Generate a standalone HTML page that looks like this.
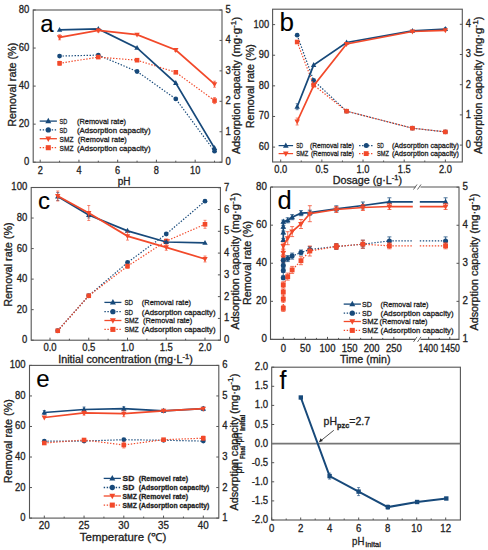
<!DOCTYPE html>
<html><head><meta charset="utf-8"><style>
html,body{margin:0;padding:0;background:#fff;}
svg{display:block;}
text{font-family:"Liberation Sans", sans-serif;fill:#222;stroke:#222;stroke-width:0.3px;}
.L{fill:#000;stroke:#000;stroke-width:0.1px;}
</style></head><body>
<svg width="488" height="550" viewBox="0 0 488 550">
<rect width="488" height="550" fill="#fff"/>
<rect x="33.2" y="10" width="188.8" height="152.2" fill="none" stroke="#555" stroke-width="1.1"/>
<line x1="33.2" y1="162.2" x2="35.7" y2="162.2" stroke="#555" stroke-width="1"/>
<text x="29.2" y="165.18" font-size="10.64" text-anchor="end" textLength="5.28" lengthAdjust="spacingAndGlyphs">0</text>
<line x1="33.2" y1="124.15" x2="35.7" y2="124.15" stroke="#555" stroke-width="1"/>
<text x="29.2" y="127.13" font-size="10.64" text-anchor="end" textLength="10.57" lengthAdjust="spacingAndGlyphs">20</text>
<line x1="33.2" y1="86.1" x2="35.7" y2="86.1" stroke="#555" stroke-width="1"/>
<text x="29.2" y="89.08" font-size="10.64" text-anchor="end" textLength="10.57" lengthAdjust="spacingAndGlyphs">40</text>
<line x1="33.2" y1="48.05" x2="35.7" y2="48.05" stroke="#555" stroke-width="1"/>
<text x="29.2" y="51.03" font-size="10.64" text-anchor="end" textLength="10.57" lengthAdjust="spacingAndGlyphs">60</text>
<line x1="33.2" y1="10" x2="35.7" y2="10" stroke="#555" stroke-width="1"/>
<text x="29.2" y="12.98" font-size="10.64" text-anchor="end" textLength="10.57" lengthAdjust="spacingAndGlyphs">80</text>
<line x1="222" y1="162.2" x2="219.5" y2="162.2" stroke="#555" stroke-width="1"/>
<text x="225.5" y="165.18" font-size="10.64" text-anchor="start" textLength="5.28" lengthAdjust="spacingAndGlyphs">0</text>
<line x1="222" y1="131.76" x2="219.5" y2="131.76" stroke="#555" stroke-width="1"/>
<text x="225.5" y="134.74" font-size="10.64" text-anchor="start" textLength="5.28" lengthAdjust="spacingAndGlyphs">1</text>
<line x1="222" y1="101.32" x2="219.5" y2="101.32" stroke="#555" stroke-width="1"/>
<text x="225.5" y="104.3" font-size="10.64" text-anchor="start" textLength="5.28" lengthAdjust="spacingAndGlyphs">2</text>
<line x1="222" y1="70.88" x2="219.5" y2="70.88" stroke="#555" stroke-width="1"/>
<text x="225.5" y="73.86" font-size="10.64" text-anchor="start" textLength="5.28" lengthAdjust="spacingAndGlyphs">3</text>
<line x1="222" y1="40.44" x2="219.5" y2="40.44" stroke="#555" stroke-width="1"/>
<text x="225.5" y="43.42" font-size="10.64" text-anchor="start" textLength="5.28" lengthAdjust="spacingAndGlyphs">4</text>
<line x1="222" y1="10" x2="219.5" y2="10" stroke="#555" stroke-width="1"/>
<text x="225.5" y="12.98" font-size="10.64" text-anchor="start" textLength="5.28" lengthAdjust="spacingAndGlyphs">5</text>
<line x1="40.2" y1="162.2" x2="40.2" y2="159.7" stroke="#555" stroke-width="1"/>
<text x="40.2" y="174.2" font-size="10.3" text-anchor="middle" textLength="5.12" lengthAdjust="spacingAndGlyphs">2</text>
<line x1="78.94" y1="162.2" x2="78.94" y2="159.7" stroke="#555" stroke-width="1"/>
<text x="78.94" y="174.2" font-size="10.3" text-anchor="middle" textLength="5.12" lengthAdjust="spacingAndGlyphs">4</text>
<line x1="117.68" y1="162.2" x2="117.68" y2="159.7" stroke="#555" stroke-width="1"/>
<text x="117.68" y="174.2" font-size="10.3" text-anchor="middle" textLength="5.12" lengthAdjust="spacingAndGlyphs">6</text>
<line x1="156.42" y1="162.2" x2="156.42" y2="159.7" stroke="#555" stroke-width="1"/>
<text x="156.42" y="174.2" font-size="10.3" text-anchor="middle" textLength="5.12" lengthAdjust="spacingAndGlyphs">8</text>
<line x1="195.16" y1="162.2" x2="195.16" y2="159.7" stroke="#555" stroke-width="1"/>
<text x="195.16" y="174.2" font-size="10.3" text-anchor="middle" textLength="10.23" lengthAdjust="spacingAndGlyphs">10</text>
<line x1="59.57" y1="162.2" x2="59.57" y2="160.7" stroke="#555" stroke-width="1"/>
<line x1="98.31" y1="162.2" x2="98.31" y2="160.7" stroke="#555" stroke-width="1"/>
<line x1="137.05" y1="162.2" x2="137.05" y2="160.7" stroke="#555" stroke-width="1"/>
<line x1="175.79" y1="162.2" x2="175.79" y2="160.7" stroke="#555" stroke-width="1"/>
<line x1="214.53" y1="162.2" x2="214.53" y2="160.7" stroke="#555" stroke-width="1"/>
<text x="117.8" y="185.2" font-size="10" text-anchor="start">pH</text>
<text transform="translate(16.2,0) rotate(-90)" x="-126.8" y="0" font-size="10.1" textLength="84.1" lengthAdjust="spacingAndGlyphs">Removal rate (%)</text>
<text transform="translate(240.2,0) rotate(-90)" x="-154.1" y="0" font-size="10.8" textLength="94.05" lengthAdjust="spacingAndGlyphs">Adsorption capacity</text>
<text transform="translate(240.2,0) rotate(-90)" x="-57.3" y="0" font-size="10.8" textLength="40.5" lengthAdjust="spacingAndGlyphs">(mg·g<tspan font-size="75%" dy="-4.2">-1</tspan><tspan dy="4.2">)</tspan></text>
<text x="40.3" y="31.8" font-size="24" class="L">a</text>
<path d="M59.57,56.1 L98.31,55.1 L137.05,71.5 L175.79,98.9 L214.53,151.2" fill="none" stroke="#17497a" stroke-width="1.2" stroke-dasharray="1.4 1.6"/>
<circle cx="59.57" cy="56.1" r="2.4" fill="#17497a"/>
<circle cx="98.31" cy="55.1" r="2.4" fill="#17497a"/>
<circle cx="137.05" cy="71.5" r="2.4" fill="#17497a"/>
<circle cx="175.79" cy="98.9" r="2.4" fill="#17497a"/>
<circle cx="214.53" cy="151.2" r="2.4" fill="#17497a"/>
<path d="M59.57,63.3 L98.31,57.1 L137.05,60.2 L175.79,72.3 L214.53,100.6" fill="none" stroke="#f2492a" stroke-width="1.2" stroke-dasharray="1.4 1.6"/>
<path d="M59.57,61.3V65.3M58.07,61.3H61.07M58.07,65.3H61.07" stroke="#f2492a" stroke-width="0.8" fill="none" opacity="0.8"/>
<path d="M214.53,97.6V103.6M213.03,97.6H216.03M213.03,103.6H216.03" stroke="#f2492a" stroke-width="0.8" fill="none" opacity="0.8"/>
<rect x="57.27" y="61" width="4.6" height="4.6" fill="#f2492a"/>
<rect x="96.01" y="54.8" width="4.6" height="4.6" fill="#f2492a"/>
<rect x="134.75" y="57.9" width="4.6" height="4.6" fill="#f2492a"/>
<rect x="173.49" y="70" width="4.6" height="4.6" fill="#f2492a"/>
<rect x="212.23" y="98.3" width="4.6" height="4.6" fill="#f2492a"/>
<path d="M59.57,29.9 L98.31,28.9 L137.05,47.9 L175.79,83 L214.53,148.1" fill="none" stroke="#17497a" stroke-width="1.75"/>
<path d="M59.57,26.9 L62.27,31.85 L56.87,31.85Z" fill="#17497a"/>
<path d="M98.31,25.9 L101.01,30.85 L95.61,30.85Z" fill="#17497a"/>
<path d="M137.05,44.9 L139.75,49.85 L134.35,49.85Z" fill="#17497a"/>
<path d="M175.79,80 L178.49,84.95 L173.09,84.95Z" fill="#17497a"/>
<path d="M214.53,145.1 L217.23,150.05 L211.83,150.05Z" fill="#17497a"/>
<path d="M59.57,37.3 L98.31,30.5 L137.05,34.6 L175.79,50 L214.53,84.2" fill="none" stroke="#f2492a" stroke-width="1.75"/>
<path d="M59.57,34.8V39.8M58.07,34.8H61.07M58.07,39.8H61.07" stroke="#f2492a" stroke-width="0.8" fill="none" opacity="0.8"/>
<path d="M98.31,29V32M96.81,29H99.81M96.81,32H99.81" stroke="#f2492a" stroke-width="0.8" fill="none" opacity="0.8"/>
<path d="M175.79,48.5V51.5M174.29,48.5H177.29M174.29,51.5H177.29" stroke="#f2492a" stroke-width="0.8" fill="none" opacity="0.8"/>
<path d="M214.53,81.2V87.2M213.03,81.2H216.03M213.03,87.2H216.03" stroke="#f2492a" stroke-width="0.8" fill="none" opacity="0.8"/>
<path d="M59.57,40.3 L62.27,35.35 L56.87,35.35Z" fill="#f2492a"/>
<path d="M98.31,33.5 L101.01,28.55 L95.61,28.55Z" fill="#f2492a"/>
<path d="M137.05,37.6 L139.75,32.65 L134.35,32.65Z" fill="#f2492a"/>
<path d="M175.79,53 L178.49,48.05 L173.09,48.05Z" fill="#f2492a"/>
<path d="M214.53,87.2 L217.23,82.25 L211.83,82.25Z" fill="#f2492a"/>
<line x1="39.7" y1="121.1" x2="56.9" y2="121.1" stroke="#17497a" stroke-width="1.3"/>
<path d="M48.3,117.8 L51.27,123.24 L45.33,123.24Z" fill="#17497a"/>
<text x="59.6" y="123.98" font-size="8" textLength="7.7" lengthAdjust="spacingAndGlyphs">SD</text>
<text x="77" y="123.98" font-size="8" textLength="49" lengthAdjust="spacingAndGlyphs">(Removal rate)</text>
<line x1="39.7" y1="129.9" x2="56.9" y2="129.9" stroke="#17497a" stroke-width="1.3" stroke-dasharray="1.4 1.6"/>
<circle cx="48.3" cy="129.9" r="2.64" fill="#17497a"/>
<text x="59.6" y="132.78" font-size="8" textLength="7.7" lengthAdjust="spacingAndGlyphs">SD</text>
<text x="77" y="132.78" font-size="8" textLength="73.5" lengthAdjust="spacingAndGlyphs">(Adsorption capacity)</text>
<line x1="39.7" y1="138.7" x2="56.9" y2="138.7" stroke="#f2492a" stroke-width="1.3"/>
<path d="M48.3,142 L51.27,136.55 L45.33,136.55Z" fill="#f2492a"/>
<text x="59.6" y="141.58" font-size="8" textLength="13.8" lengthAdjust="spacingAndGlyphs">SMZ</text>
<text x="77.8" y="141.58" font-size="8" textLength="49" lengthAdjust="spacingAndGlyphs">(Removal rate)</text>
<line x1="39.7" y1="147.7" x2="56.9" y2="147.7" stroke="#f2492a" stroke-width="1.3" stroke-dasharray="1.4 1.6"/>
<rect x="45.77" y="145.17" width="5.06" height="5.06" fill="#f2492a"/>
<text x="59.6" y="150.58" font-size="8" textLength="13.8" lengthAdjust="spacingAndGlyphs">SMZ</text>
<text x="77" y="150.58" font-size="8" textLength="73.5" lengthAdjust="spacingAndGlyphs">(Adsorption capacity)</text>
<rect x="272.6" y="9.2" width="189.7" height="152.8" fill="none" stroke="#555" stroke-width="1.1"/>
<line x1="272.6" y1="147.1" x2="275.1" y2="147.1" stroke="#555" stroke-width="1"/>
<text x="269.1" y="150.02" font-size="10.42" text-anchor="end" textLength="10.34" lengthAdjust="spacingAndGlyphs">60</text>
<line x1="272.6" y1="116.47" x2="275.1" y2="116.47" stroke="#555" stroke-width="1"/>
<text x="269.1" y="119.39" font-size="10.42" text-anchor="end" textLength="10.34" lengthAdjust="spacingAndGlyphs">70</text>
<line x1="272.6" y1="85.85" x2="275.1" y2="85.85" stroke="#555" stroke-width="1"/>
<text x="269.1" y="88.77" font-size="10.42" text-anchor="end" textLength="10.34" lengthAdjust="spacingAndGlyphs">80</text>
<line x1="272.6" y1="55.22" x2="275.1" y2="55.22" stroke="#555" stroke-width="1"/>
<text x="269.1" y="58.14" font-size="10.42" text-anchor="end" textLength="10.34" lengthAdjust="spacingAndGlyphs">90</text>
<line x1="272.6" y1="24.6" x2="275.1" y2="24.6" stroke="#555" stroke-width="1"/>
<text x="269.1" y="27.52" font-size="10.42" text-anchor="end" textLength="15.52" lengthAdjust="spacingAndGlyphs">100</text>
<line x1="462.3" y1="145.1" x2="459.8" y2="145.1" stroke="#555" stroke-width="1"/>
<text x="465.8" y="148.02" font-size="10.42" text-anchor="start" textLength="5.17" lengthAdjust="spacingAndGlyphs">0</text>
<line x1="462.3" y1="114.9" x2="459.8" y2="114.9" stroke="#555" stroke-width="1"/>
<text x="465.8" y="117.82" font-size="10.42" text-anchor="start" textLength="5.17" lengthAdjust="spacingAndGlyphs">1</text>
<line x1="462.3" y1="84.7" x2="459.8" y2="84.7" stroke="#555" stroke-width="1"/>
<text x="465.8" y="87.62" font-size="10.42" text-anchor="start" textLength="5.17" lengthAdjust="spacingAndGlyphs">2</text>
<line x1="462.3" y1="54.5" x2="459.8" y2="54.5" stroke="#555" stroke-width="1"/>
<text x="465.8" y="57.42" font-size="10.42" text-anchor="start" textLength="5.17" lengthAdjust="spacingAndGlyphs">3</text>
<line x1="462.3" y1="24.3" x2="459.8" y2="24.3" stroke="#555" stroke-width="1"/>
<text x="465.8" y="27.22" font-size="10.42" text-anchor="start" textLength="5.17" lengthAdjust="spacingAndGlyphs">4</text>
<line x1="280.7" y1="162" x2="280.7" y2="159.5" stroke="#555" stroke-width="1"/>
<text x="280.7" y="173.3" font-size="10.42" text-anchor="middle" textLength="12.93" lengthAdjust="spacingAndGlyphs">0.0</text>
<line x1="321.87" y1="162" x2="321.87" y2="159.5" stroke="#555" stroke-width="1"/>
<text x="321.87" y="173.3" font-size="10.42" text-anchor="middle" textLength="12.93" lengthAdjust="spacingAndGlyphs">0.5</text>
<line x1="363.03" y1="162" x2="363.03" y2="159.5" stroke="#555" stroke-width="1"/>
<text x="363.03" y="173.3" font-size="10.42" text-anchor="middle" textLength="12.93" lengthAdjust="spacingAndGlyphs">1.0</text>
<line x1="404.19" y1="162" x2="404.19" y2="159.5" stroke="#555" stroke-width="1"/>
<text x="404.19" y="173.3" font-size="10.42" text-anchor="middle" textLength="12.93" lengthAdjust="spacingAndGlyphs">1.5</text>
<line x1="445.36" y1="162" x2="445.36" y2="159.5" stroke="#555" stroke-width="1"/>
<text x="445.36" y="173.3" font-size="10.42" text-anchor="middle" textLength="12.93" lengthAdjust="spacingAndGlyphs">2.0</text>
<line x1="301.28" y1="162" x2="301.28" y2="160.5" stroke="#555" stroke-width="1"/>
<line x1="342.45" y1="162" x2="342.45" y2="160.5" stroke="#555" stroke-width="1"/>
<line x1="383.61" y1="162" x2="383.61" y2="160.5" stroke="#555" stroke-width="1"/>
<line x1="424.78" y1="162" x2="424.78" y2="160.5" stroke="#555" stroke-width="1"/>
<text x="332.7" y="183.6" font-size="10" text-anchor="start" textLength="69.3" lengthAdjust="spacingAndGlyphs">Dosage (g·L<tspan font-size="70%" dy="-4">-1</tspan><tspan dy="4">)</tspan></text>
<text transform="translate(254,0) rotate(-90)" x="-128.2" y="0" font-size="10.1" textLength="84.1" lengthAdjust="spacingAndGlyphs">Removal rate (%)</text>
<text transform="translate(482,0) rotate(-90)" x="-154.1" y="0" font-size="10.8" textLength="94.32" lengthAdjust="spacingAndGlyphs">Adsorption capacity</text>
<text transform="translate(482,0) rotate(-90)" x="-57.02" y="0" font-size="10.8" textLength="40.62" lengthAdjust="spacingAndGlyphs">(mg·g<tspan font-size="75%" dy="-4.2">-1</tspan><tspan dy="4.2">)</tspan></text>
<text x="279.6" y="31" font-size="26" class="L">b</text>
<path d="M297.17,35.2 L313.63,80.5 L346.56,111.2 L412.43,128.2 L445.36,131.9" fill="none" stroke="#17497a" stroke-width="1.2" stroke-dasharray="1.4 1.6"/>
<circle cx="297.17" cy="35.2" r="2.4" fill="#17497a"/>
<circle cx="313.63" cy="80.5" r="2.4" fill="#17497a"/>
<circle cx="346.56" cy="111.2" r="2.4" fill="#17497a"/>
<circle cx="412.43" cy="128.2" r="2.4" fill="#17497a"/>
<circle cx="445.36" cy="131.9" r="2.4" fill="#17497a"/>
<path d="M297.17,42 L313.63,85 L346.56,111.2 L412.43,128.2 L445.36,131.9" fill="none" stroke="#f2492a" stroke-width="1.2" stroke-dasharray="1.4 1.6"/>
<rect x="294.87" y="39.7" width="4.6" height="4.6" fill="#f2492a"/>
<rect x="311.33" y="82.7" width="4.6" height="4.6" fill="#f2492a"/>
<rect x="344.26" y="108.9" width="4.6" height="4.6" fill="#f2492a"/>
<rect x="410.13" y="125.9" width="4.6" height="4.6" fill="#f2492a"/>
<rect x="443.06" y="129.6" width="4.6" height="4.6" fill="#f2492a"/>
<path d="M297.17,106.7 L313.63,65.1 L346.56,42.5 L412.43,30.9 L445.36,29.1" fill="none" stroke="#17497a" stroke-width="1.75"/>
<path d="M297.17,103.7V109.7M295.67,103.7H298.67M295.67,109.7H298.67" stroke="#17497a" stroke-width="0.8" fill="none" opacity="0.8"/>
<path d="M445.36,27.6V30.6M443.86,27.6H446.86M443.86,30.6H446.86" stroke="#17497a" stroke-width="0.8" fill="none" opacity="0.8"/>
<path d="M297.17,103.7 L299.87,108.65 L294.47,108.65Z" fill="#17497a"/>
<path d="M313.63,62.1 L316.33,67.05 L310.93,67.05Z" fill="#17497a"/>
<path d="M346.56,39.5 L349.26,44.45 L343.86,44.45Z" fill="#17497a"/>
<path d="M412.43,27.9 L415.13,32.85 L409.73,32.85Z" fill="#17497a"/>
<path d="M445.36,26.1 L448.06,31.05 L442.66,31.05Z" fill="#17497a"/>
<path d="M297.17,121.5 L313.63,85.6 L346.56,44 L412.43,31.5 L445.36,30.3" fill="none" stroke="#f2492a" stroke-width="1.75"/>
<path d="M297.17,118V125M295.67,118H298.67M295.67,125H298.67" stroke="#f2492a" stroke-width="0.8" fill="none" opacity="0.8"/>
<path d="M297.17,124.5 L299.87,119.55 L294.47,119.55Z" fill="#f2492a"/>
<path d="M313.63,88.6 L316.33,83.65 L310.93,83.65Z" fill="#f2492a"/>
<path d="M346.56,47 L349.26,42.05 L343.86,42.05Z" fill="#f2492a"/>
<path d="M412.43,34.5 L415.13,29.55 L409.73,29.55Z" fill="#f2492a"/>
<path d="M445.36,33.3 L448.06,28.35 L442.66,28.35Z" fill="#f2492a"/>
<line x1="278.6" y1="145.6" x2="293.1" y2="145.6" stroke="#17497a" stroke-width="1.2"/>
<path d="M285.8,142.45 L288.63,147.65 L282.97,147.65Z" fill="#17497a"/>
<text x="296.2" y="148.34" font-size="7.6" textLength="6.8" lengthAdjust="spacingAndGlyphs">SD</text>
<text x="310" y="148.34" font-size="7.6" textLength="44" lengthAdjust="spacingAndGlyphs">(Removal rate)</text>
<line x1="278.6" y1="153.6" x2="293.1" y2="153.6" stroke="#f2492a" stroke-width="1.2"/>
<path d="M285.8,156.75 L288.63,151.55 L282.97,151.55Z" fill="#f2492a"/>
<text x="296.2" y="156.34" font-size="7.6" textLength="11.9" lengthAdjust="spacingAndGlyphs">SMZ</text>
<text x="310.9" y="156.34" font-size="7.6" textLength="43.1" lengthAdjust="spacingAndGlyphs">(Removal rate)</text>
<line x1="359.1" y1="145.6" x2="373.6" y2="145.6" stroke="#17497a" stroke-width="1.2" stroke-dasharray="1.4 1.6"/>
<circle cx="366.3" cy="145.6" r="2.52" fill="#17497a"/>
<text x="377" y="148.34" font-size="7.6" textLength="6.8" lengthAdjust="spacingAndGlyphs">SD</text>
<text x="392" y="148.34" font-size="7.6" textLength="66.9" lengthAdjust="spacingAndGlyphs">(Adsorption capacity)</text>
<line x1="359" y1="153.6" x2="373.5" y2="153.6" stroke="#f2492a" stroke-width="1.2" stroke-dasharray="1.4 1.6"/>
<rect x="363.78" y="151.19" width="4.83" height="4.83" fill="#f2492a"/>
<text x="377" y="156.34" font-size="7.6" textLength="11.9" lengthAdjust="spacingAndGlyphs">SMZ</text>
<text x="392" y="156.34" font-size="7.6" textLength="66.9" lengthAdjust="spacingAndGlyphs">(Adsorption capacity)</text>
<rect x="31.2" y="187.5" width="189.2" height="152.7" fill="none" stroke="#555" stroke-width="1.1"/>
<line x1="31.2" y1="340.2" x2="33.7" y2="340.2" stroke="#555" stroke-width="1"/>
<text x="27.2" y="343.18" font-size="10.64" text-anchor="end" textLength="5.28" lengthAdjust="spacingAndGlyphs">0</text>
<line x1="31.2" y1="309.66" x2="33.7" y2="309.66" stroke="#555" stroke-width="1"/>
<text x="27.2" y="312.64" font-size="10.64" text-anchor="end" textLength="10.57" lengthAdjust="spacingAndGlyphs">20</text>
<line x1="31.2" y1="279.12" x2="33.7" y2="279.12" stroke="#555" stroke-width="1"/>
<text x="27.2" y="282.1" font-size="10.64" text-anchor="end" textLength="10.57" lengthAdjust="spacingAndGlyphs">40</text>
<line x1="31.2" y1="248.58" x2="33.7" y2="248.58" stroke="#555" stroke-width="1"/>
<text x="27.2" y="251.56" font-size="10.64" text-anchor="end" textLength="10.57" lengthAdjust="spacingAndGlyphs">60</text>
<line x1="31.2" y1="218.04" x2="33.7" y2="218.04" stroke="#555" stroke-width="1"/>
<text x="27.2" y="221.02" font-size="10.64" text-anchor="end" textLength="10.57" lengthAdjust="spacingAndGlyphs">80</text>
<line x1="31.2" y1="187.5" x2="33.7" y2="187.5" stroke="#555" stroke-width="1"/>
<text x="27.2" y="190.48" font-size="10.64" text-anchor="end" textLength="15.85" lengthAdjust="spacingAndGlyphs">100</text>
<line x1="220.4" y1="340.2" x2="217.9" y2="340.2" stroke="#555" stroke-width="1"/>
<text x="223.9" y="343.18" font-size="10.64" text-anchor="start" textLength="5.28" lengthAdjust="spacingAndGlyphs">0</text>
<line x1="220.4" y1="318.42" x2="217.9" y2="318.42" stroke="#555" stroke-width="1"/>
<text x="223.9" y="321.4" font-size="10.64" text-anchor="start" textLength="5.28" lengthAdjust="spacingAndGlyphs">1</text>
<line x1="220.4" y1="296.64" x2="217.9" y2="296.64" stroke="#555" stroke-width="1"/>
<text x="223.9" y="299.62" font-size="10.64" text-anchor="start" textLength="5.28" lengthAdjust="spacingAndGlyphs">2</text>
<line x1="220.4" y1="274.86" x2="217.9" y2="274.86" stroke="#555" stroke-width="1"/>
<text x="223.9" y="277.84" font-size="10.64" text-anchor="start" textLength="5.28" lengthAdjust="spacingAndGlyphs">3</text>
<line x1="220.4" y1="253.08" x2="217.9" y2="253.08" stroke="#555" stroke-width="1"/>
<text x="223.9" y="256.06" font-size="10.64" text-anchor="start" textLength="5.28" lengthAdjust="spacingAndGlyphs">4</text>
<line x1="220.4" y1="231.3" x2="217.9" y2="231.3" stroke="#555" stroke-width="1"/>
<text x="223.9" y="234.28" font-size="10.64" text-anchor="start" textLength="5.28" lengthAdjust="spacingAndGlyphs">5</text>
<line x1="220.4" y1="209.52" x2="217.9" y2="209.52" stroke="#555" stroke-width="1"/>
<text x="223.9" y="212.5" font-size="10.64" text-anchor="start" textLength="5.28" lengthAdjust="spacingAndGlyphs">6</text>
<line x1="220.4" y1="187.74" x2="217.9" y2="187.74" stroke="#555" stroke-width="1"/>
<text x="223.9" y="190.72" font-size="10.64" text-anchor="start" textLength="5.28" lengthAdjust="spacingAndGlyphs">7</text>
<line x1="50" y1="340.2" x2="50" y2="337.7" stroke="#555" stroke-width="1"/>
<text x="50" y="351.3" font-size="10.64" text-anchor="middle" textLength="13.21" lengthAdjust="spacingAndGlyphs">0.0</text>
<line x1="88.75" y1="340.2" x2="88.75" y2="337.7" stroke="#555" stroke-width="1"/>
<text x="88.75" y="351.3" font-size="10.64" text-anchor="middle" textLength="13.21" lengthAdjust="spacingAndGlyphs">0.5</text>
<line x1="127.5" y1="340.2" x2="127.5" y2="337.7" stroke="#555" stroke-width="1"/>
<text x="127.5" y="351.3" font-size="10.64" text-anchor="middle" textLength="13.21" lengthAdjust="spacingAndGlyphs">1.0</text>
<line x1="166.25" y1="340.2" x2="166.25" y2="337.7" stroke="#555" stroke-width="1"/>
<text x="166.25" y="351.3" font-size="10.64" text-anchor="middle" textLength="13.21" lengthAdjust="spacingAndGlyphs">1.5</text>
<line x1="205" y1="340.2" x2="205" y2="337.7" stroke="#555" stroke-width="1"/>
<text x="205" y="351.3" font-size="10.64" text-anchor="middle" textLength="13.21" lengthAdjust="spacingAndGlyphs">2.0</text>
<line x1="69.38" y1="340.2" x2="69.38" y2="338.7" stroke="#555" stroke-width="1"/>
<line x1="108.12" y1="340.2" x2="108.12" y2="338.7" stroke="#555" stroke-width="1"/>
<line x1="146.88" y1="340.2" x2="146.88" y2="338.7" stroke="#555" stroke-width="1"/>
<line x1="185.62" y1="340.2" x2="185.62" y2="338.7" stroke="#555" stroke-width="1"/>
<text x="58.2" y="362.5" font-size="10" text-anchor="start" textLength="134.7" lengthAdjust="spacingAndGlyphs">Initial concentration (mg·L<tspan font-size="70%" dy="-4">-1</tspan><tspan dy="4">)</tspan></text>
<text transform="translate(11.8,0) rotate(-90)" x="-306.8" y="0" font-size="10.1" textLength="84.5" lengthAdjust="spacingAndGlyphs">Removal rate (%)</text>
<text transform="translate(239.4,0) rotate(-90)" x="-329.5" y="0" font-size="10.8" textLength="93.57" lengthAdjust="spacingAndGlyphs">Adsorption capacity</text>
<text transform="translate(239.4,0) rotate(-90)" x="-233.2" y="0" font-size="10.8" textLength="40.3" lengthAdjust="spacingAndGlyphs">(mg·g<tspan font-size="75%" dy="-4.2">-1</tspan><tspan dy="4.2">)</tspan></text>
<text x="38" y="209" font-size="24" class="L">c</text>
<path d="M57.75,330.75 L88.75,295.75 L127.5,262.5 L166.25,234 L205,201.2" fill="none" stroke="#17497a" stroke-width="1.2" stroke-dasharray="1.4 1.6"/>
<circle cx="57.75" cy="330.75" r="2.4" fill="#17497a"/>
<circle cx="88.75" cy="295.75" r="2.4" fill="#17497a"/>
<circle cx="127.5" cy="262.5" r="2.4" fill="#17497a"/>
<circle cx="166.25" cy="234" r="2.4" fill="#17497a"/>
<circle cx="205" cy="201.2" r="2.4" fill="#17497a"/>
<path d="M57.75,330.75 L88.75,295.75 L127.5,266.2 L166.25,241.1 L205,224.3" fill="none" stroke="#f2492a" stroke-width="1.2" stroke-dasharray="1.4 1.6"/>
<path d="M127.5,264.2V268.2M126,264.2H129M126,268.2H129" stroke="#f2492a" stroke-width="0.8" fill="none" opacity="0.8"/>
<path d="M166.25,239.1V243.1M164.75,239.1H167.75M164.75,243.1H167.75" stroke="#f2492a" stroke-width="0.8" fill="none" opacity="0.8"/>
<path d="M205,220.3V228.3M203.5,220.3H206.5M203.5,228.3H206.5" stroke="#f2492a" stroke-width="0.8" fill="none" opacity="0.8"/>
<rect x="55.45" y="328.45" width="4.6" height="4.6" fill="#f2492a"/>
<rect x="86.45" y="293.45" width="4.6" height="4.6" fill="#f2492a"/>
<rect x="125.2" y="263.9" width="4.6" height="4.6" fill="#f2492a"/>
<rect x="163.95" y="238.8" width="4.6" height="4.6" fill="#f2492a"/>
<rect x="202.7" y="222" width="4.6" height="4.6" fill="#f2492a"/>
<path d="M57.75,196.5 L88.75,215 L127.5,230.8 L166.25,242 L205,242.9" fill="none" stroke="#17497a" stroke-width="1.75"/>
<path d="M57.75,192.5V200.5M56.25,192.5H59.25M56.25,200.5H59.25" stroke="#17497a" stroke-width="0.8" fill="none" opacity="0.8"/>
<path d="M88.75,212V218M87.25,212H90.25M87.25,218H90.25" stroke="#17497a" stroke-width="0.8" fill="none" opacity="0.8"/>
<path d="M57.75,193.5 L60.45,198.45 L55.05,198.45Z" fill="#17497a"/>
<path d="M88.75,212 L91.45,216.95 L86.05,216.95Z" fill="#17497a"/>
<path d="M127.5,227.8 L130.2,232.75 L124.8,232.75Z" fill="#17497a"/>
<path d="M166.25,239 L168.95,243.95 L163.55,243.95Z" fill="#17497a"/>
<path d="M205,239.9 L207.7,244.85 L202.3,244.85Z" fill="#17497a"/>
<path d="M57.75,196 L88.75,213 L127.5,236.1 L166.25,247.3 L205,259" fill="none" stroke="#f2492a" stroke-width="1.75"/>
<path d="M57.75,191V201M56.25,191H59.25M56.25,201H59.25" stroke="#f2492a" stroke-width="0.8" fill="none" opacity="0.8"/>
<path d="M88.75,205.5V220.5M87.25,205.5H90.25M87.25,220.5H90.25" stroke="#f2492a" stroke-width="0.8" fill="none" opacity="0.8"/>
<path d="M127.5,232.1V240.1M126,232.1H129M126,240.1H129" stroke="#f2492a" stroke-width="0.8" fill="none" opacity="0.8"/>
<path d="M166.25,244.3V250.3M164.75,244.3H167.75M164.75,250.3H167.75" stroke="#f2492a" stroke-width="0.8" fill="none" opacity="0.8"/>
<path d="M205,256V262M203.5,256H206.5M203.5,262H206.5" stroke="#f2492a" stroke-width="0.8" fill="none" opacity="0.8"/>
<path d="M57.75,199 L60.45,194.05 L55.05,194.05Z" fill="#f2492a"/>
<path d="M88.75,216 L91.45,211.05 L86.05,211.05Z" fill="#f2492a"/>
<path d="M127.5,239.1 L130.2,234.15 L124.8,234.15Z" fill="#f2492a"/>
<path d="M166.25,250.3 L168.95,245.35 L163.55,245.35Z" fill="#f2492a"/>
<path d="M205,262 L207.7,257.05 L202.3,257.05Z" fill="#f2492a"/>
<line x1="104.4" y1="302.4" x2="121.4" y2="302.4" stroke="#17497a" stroke-width="1.3"/>
<path d="M112.9,299.1 L115.87,304.54 L109.93,304.54Z" fill="#17497a"/>
<text x="124.4" y="305.28" font-size="8" textLength="8.6" lengthAdjust="spacingAndGlyphs">SD</text>
<text x="141.8" y="305.28" font-size="8" textLength="49.2" lengthAdjust="spacingAndGlyphs">(Removal rate)</text>
<line x1="104.4" y1="311.7" x2="121.4" y2="311.7" stroke="#17497a" stroke-width="1.3" stroke-dasharray="1.4 1.6"/>
<circle cx="112.9" cy="311.7" r="2.64" fill="#17497a"/>
<text x="124.4" y="314.58" font-size="8" textLength="8.6" lengthAdjust="spacingAndGlyphs">SD</text>
<text x="141.8" y="314.58" font-size="8" textLength="73.8" lengthAdjust="spacingAndGlyphs">(Adsorption capacity)</text>
<line x1="104.4" y1="320.5" x2="121.4" y2="320.5" stroke="#f2492a" stroke-width="1.3"/>
<path d="M112.9,323.8 L115.87,318.36 L109.93,318.36Z" fill="#f2492a"/>
<text x="124.4" y="323.38" font-size="8" textLength="14.2" lengthAdjust="spacingAndGlyphs">SMZ</text>
<text x="143" y="323.38" font-size="8" textLength="49.2" lengthAdjust="spacingAndGlyphs">(Removal rate)</text>
<line x1="104.4" y1="329.4" x2="121.4" y2="329.4" stroke="#f2492a" stroke-width="1.3" stroke-dasharray="1.4 1.6"/>
<rect x="110.37" y="326.87" width="5.06" height="5.06" fill="#f2492a"/>
<text x="124.4" y="332.28" font-size="8" textLength="14.2" lengthAdjust="spacingAndGlyphs">SMZ</text>
<text x="141.8" y="332.28" font-size="8" textLength="73.8" lengthAdjust="spacingAndGlyphs">(Adsorption capacity)</text>
<path d="M270.5,187V339.4H415.5M420.5,339.4H459V187H420.5M415.5,187H270.5" fill="none" stroke="#555" stroke-width="1.1"/>
<path d="M413.5,189.5L417,184.5M417.5,189.5L421,184.5" stroke="#555" stroke-width="0.9" fill="none"/>
<path d="M413.5,341.9L417,336.9M417.5,341.9L421,336.9" stroke="#555" stroke-width="0.9" fill="none"/>
<line x1="270.5" y1="339.4" x2="273" y2="339.4" stroke="#555" stroke-width="1"/>
<text x="267" y="342.47" font-size="10.98" text-anchor="end" textLength="5.45" lengthAdjust="spacingAndGlyphs">0</text>
<line x1="270.5" y1="301.32" x2="273" y2="301.32" stroke="#555" stroke-width="1"/>
<text x="267" y="304.39" font-size="10.98" text-anchor="end" textLength="10.9" lengthAdjust="spacingAndGlyphs">20</text>
<line x1="270.5" y1="263.24" x2="273" y2="263.24" stroke="#555" stroke-width="1"/>
<text x="267" y="266.31" font-size="10.98" text-anchor="end" textLength="10.9" lengthAdjust="spacingAndGlyphs">40</text>
<line x1="270.5" y1="225.16" x2="273" y2="225.16" stroke="#555" stroke-width="1"/>
<text x="267" y="228.23" font-size="10.98" text-anchor="end" textLength="10.9" lengthAdjust="spacingAndGlyphs">60</text>
<line x1="270.5" y1="187.08" x2="273" y2="187.08" stroke="#555" stroke-width="1"/>
<text x="267" y="190.15" font-size="10.98" text-anchor="end" textLength="10.9" lengthAdjust="spacingAndGlyphs">80</text>
<line x1="459" y1="339.4" x2="456.5" y2="339.4" stroke="#555" stroke-width="1"/>
<text x="462.5" y="342.47" font-size="10.98" text-anchor="start" textLength="5.45" lengthAdjust="spacingAndGlyphs">1</text>
<line x1="459" y1="301.35" x2="456.5" y2="301.35" stroke="#555" stroke-width="1"/>
<text x="462.5" y="304.42" font-size="10.98" text-anchor="start" textLength="5.45" lengthAdjust="spacingAndGlyphs">2</text>
<line x1="459" y1="263.3" x2="456.5" y2="263.3" stroke="#555" stroke-width="1"/>
<text x="462.5" y="266.37" font-size="10.98" text-anchor="start" textLength="5.45" lengthAdjust="spacingAndGlyphs">3</text>
<line x1="459" y1="225.25" x2="456.5" y2="225.25" stroke="#555" stroke-width="1"/>
<text x="462.5" y="228.32" font-size="10.98" text-anchor="start" textLength="5.45" lengthAdjust="spacingAndGlyphs">4</text>
<line x1="459" y1="187.2" x2="456.5" y2="187.2" stroke="#555" stroke-width="1"/>
<text x="462.5" y="190.27" font-size="10.98" text-anchor="start" textLength="5.45" lengthAdjust="spacingAndGlyphs">5</text>
<line x1="283.3" y1="339.4" x2="283.3" y2="336.9" stroke="#555" stroke-width="1"/>
<text x="283.3" y="351.5" font-size="10.64" text-anchor="middle" textLength="5.28" lengthAdjust="spacingAndGlyphs">0</text>
<line x1="305.4" y1="339.4" x2="305.4" y2="336.9" stroke="#555" stroke-width="1"/>
<text x="305.4" y="351.5" font-size="10.64" text-anchor="middle" textLength="10.57" lengthAdjust="spacingAndGlyphs">50</text>
<line x1="327.5" y1="339.4" x2="327.5" y2="336.9" stroke="#555" stroke-width="1"/>
<text x="327.5" y="351.5" font-size="10.64" text-anchor="middle" textLength="15.85" lengthAdjust="spacingAndGlyphs">100</text>
<line x1="349.6" y1="339.4" x2="349.6" y2="336.9" stroke="#555" stroke-width="1"/>
<text x="349.6" y="351.5" font-size="10.64" text-anchor="middle" textLength="15.85" lengthAdjust="spacingAndGlyphs">150</text>
<line x1="371.7" y1="339.4" x2="371.7" y2="336.9" stroke="#555" stroke-width="1"/>
<text x="371.7" y="351.5" font-size="10.64" text-anchor="middle" textLength="15.85" lengthAdjust="spacingAndGlyphs">200</text>
<line x1="393.8" y1="339.4" x2="393.8" y2="336.9" stroke="#555" stroke-width="1"/>
<text x="393.8" y="351.5" font-size="10.64" text-anchor="middle" textLength="15.85" lengthAdjust="spacingAndGlyphs">250</text>
<line x1="294.35" y1="339.4" x2="294.35" y2="337.9" stroke="#555" stroke-width="1"/>
<line x1="316.45" y1="339.4" x2="316.45" y2="337.9" stroke="#555" stroke-width="1"/>
<line x1="338.55" y1="339.4" x2="338.55" y2="337.9" stroke="#555" stroke-width="1"/>
<line x1="360.65" y1="339.4" x2="360.65" y2="337.9" stroke="#555" stroke-width="1"/>
<line x1="382.75" y1="339.4" x2="382.75" y2="337.9" stroke="#555" stroke-width="1"/>
<line x1="428.7" y1="339.4" x2="428.7" y2="336.9" stroke="#555" stroke-width="1"/>
<line x1="449.8" y1="339.4" x2="449.8" y2="336.9" stroke="#555" stroke-width="1"/>
<line x1="439.25" y1="339.4" x2="439.25" y2="337.9" stroke="#555" stroke-width="1"/>
<text x="428.3" y="351.5" font-size="10.64" text-anchor="middle" textLength="19.4" lengthAdjust="spacingAndGlyphs">1400</text>
<text x="450.2" y="351.5" font-size="10.64" text-anchor="middle" textLength="19.4" lengthAdjust="spacingAndGlyphs">1450</text>
<text x="339.9" y="362.6" font-size="11" text-anchor="start" textLength="50.6" lengthAdjust="spacingAndGlyphs">Time (min)</text>
<text transform="translate(251.3,0) rotate(-90)" x="-305" y="0" font-size="10.1" textLength="84.1" lengthAdjust="spacingAndGlyphs">Removal rate (%)</text>
<text transform="translate(477.8,0) rotate(-90)" x="-330.5" y="0" font-size="10.8" textLength="93.91" lengthAdjust="spacingAndGlyphs">Adsorption capacity</text>
<text transform="translate(477.8,0) rotate(-90)" x="-233.84" y="0" font-size="10.8" textLength="40.44" lengthAdjust="spacingAndGlyphs">(mg·g<tspan font-size="75%" dy="-4.2">-1</tspan><tspan dy="4.2">)</tspan></text>
<text x="277.6" y="208.5" font-size="25.5" class="L">d</text>
<path d="M283.3,239.9 L283.3,232.5 L283.3,226.8 L283.3,221.6 L287.72,220.3 L292.14,217.2 L300.98,213.2 L309.82,212.7 L336.34,208.8 L362.86,205.5 L389.38,201.8" fill="none" stroke="#17497a" stroke-width="1.75"/>
<path d="M389.38,201.8 L412.8,201.8 M419.8,201.8 L445.58,201.8" fill="none" stroke="#17497a" stroke-width="1.75"/>
<path d="M283.3,238.4V241.4M281.3,238.4H285.3M281.3,241.4H285.3" stroke="#17497a" stroke-width="0.9" fill="none" opacity="0.85"/>
<path d="M283.3,231V234M281.3,231H285.3M281.3,234H285.3" stroke="#17497a" stroke-width="0.9" fill="none" opacity="0.85"/>
<path d="M283.3,225.3V228.3M281.3,225.3H285.3M281.3,228.3H285.3" stroke="#17497a" stroke-width="0.9" fill="none" opacity="0.85"/>
<path d="M283.3,220.1V223.1M281.3,220.1H285.3M281.3,223.1H285.3" stroke="#17497a" stroke-width="0.9" fill="none" opacity="0.85"/>
<path d="M287.72,217.8V222.8M285.72,217.8H289.72M285.72,222.8H289.72" stroke="#17497a" stroke-width="0.9" fill="none" opacity="0.85"/>
<path d="M292.14,214.7V219.7M290.14,214.7H294.14M290.14,219.7H294.14" stroke="#17497a" stroke-width="0.9" fill="none" opacity="0.85"/>
<path d="M300.98,210.7V215.7M298.98,210.7H302.98M298.98,215.7H302.98" stroke="#17497a" stroke-width="0.9" fill="none" opacity="0.85"/>
<path d="M309.82,210.2V215.2M307.82,210.2H311.82M307.82,215.2H311.82" stroke="#17497a" stroke-width="0.9" fill="none" opacity="0.85"/>
<path d="M336.34,205.8V211.8M334.34,205.8H338.34M334.34,211.8H338.34" stroke="#17497a" stroke-width="0.9" fill="none" opacity="0.85"/>
<path d="M362.86,202V209M360.86,202H364.86M360.86,209H364.86" stroke="#17497a" stroke-width="0.9" fill="none" opacity="0.85"/>
<path d="M389.38,197.8V205.8M387.38,197.8H391.38M387.38,205.8H391.38" stroke="#17497a" stroke-width="0.9" fill="none" opacity="0.85"/>
<path d="M445.58,197.8V205.8M443.58,197.8H447.58M443.58,205.8H447.58" stroke="#17497a" stroke-width="0.9" fill="none" opacity="0.85"/>
<path d="M283.3,236.75 L286.13,241.95 L280.47,241.95Z" fill="#17497a"/>
<path d="M283.3,229.35 L286.13,234.55 L280.47,234.55Z" fill="#17497a"/>
<path d="M283.3,223.65 L286.13,228.85 L280.47,228.85Z" fill="#17497a"/>
<path d="M283.3,218.45 L286.13,223.65 L280.47,223.65Z" fill="#17497a"/>
<path d="M287.72,217.15 L290.56,222.35 L284.89,222.35Z" fill="#17497a"/>
<path d="M292.14,214.05 L294.97,219.25 L289.31,219.25Z" fill="#17497a"/>
<path d="M300.98,210.05 L303.81,215.25 L298.15,215.25Z" fill="#17497a"/>
<path d="M309.82,209.55 L312.65,214.75 L306.99,214.75Z" fill="#17497a"/>
<path d="M336.34,205.65 L339.18,210.85 L333.51,210.85Z" fill="#17497a"/>
<path d="M362.86,202.35 L365.69,207.55 L360.03,207.55Z" fill="#17497a"/>
<path d="M389.38,198.65 L392.21,203.85 L386.55,203.85Z" fill="#17497a"/>
<path d="M445.58,198.65 L448.41,203.85 L442.75,203.85Z" fill="#17497a"/>
<path d="M283.3,262 L283.3,257.5 L283.3,253 L283.3,246 L287.72,238.2 L292.14,231.6 L300.98,224 L309.82,213.7 L336.34,209.5 L362.86,207.5 L389.38,206.5" fill="none" stroke="#f2492a" stroke-width="1.75"/>
<path d="M389.38,206.5 L412.8,206.5 M419.8,206.5 L445.58,206.5" fill="none" stroke="#f2492a" stroke-width="1.75"/>
<path d="M283.3,259V265M281.3,259H285.3M281.3,265H285.3" stroke="#f2492a" stroke-width="0.9" fill="none" opacity="0.85"/>
<path d="M283.3,254.5V260.5M281.3,254.5H285.3M281.3,260.5H285.3" stroke="#f2492a" stroke-width="0.9" fill="none" opacity="0.85"/>
<path d="M283.3,250V256M281.3,250H285.3M281.3,256H285.3" stroke="#f2492a" stroke-width="0.9" fill="none" opacity="0.85"/>
<path d="M283.3,243V249M281.3,243H285.3M281.3,249H285.3" stroke="#f2492a" stroke-width="0.9" fill="none" opacity="0.85"/>
<path d="M287.72,231.7V244.7M285.72,231.7H289.72M285.72,244.7H289.72" stroke="#f2492a" stroke-width="0.9" fill="none" opacity="0.85"/>
<path d="M292.14,226.6V236.6M290.14,226.6H294.14M290.14,236.6H294.14" stroke="#f2492a" stroke-width="0.9" fill="none" opacity="0.85"/>
<path d="M300.98,219.5V228.5M298.98,219.5H302.98M298.98,228.5H302.98" stroke="#f2492a" stroke-width="0.9" fill="none" opacity="0.85"/>
<path d="M309.82,205.7V221.7M307.82,205.7H311.82M307.82,221.7H311.82" stroke="#f2492a" stroke-width="0.9" fill="none" opacity="0.85"/>
<path d="M336.34,206.5V212.5M334.34,206.5H338.34M334.34,212.5H338.34" stroke="#f2492a" stroke-width="0.9" fill="none" opacity="0.85"/>
<path d="M362.86,204.5V210.5M360.86,204.5H364.86M360.86,210.5H364.86" stroke="#f2492a" stroke-width="0.9" fill="none" opacity="0.85"/>
<path d="M389.38,203.5V209.5M387.38,203.5H391.38M387.38,209.5H391.38" stroke="#f2492a" stroke-width="0.9" fill="none" opacity="0.85"/>
<path d="M445.58,203.5V209.5M443.58,203.5H447.58M443.58,209.5H447.58" stroke="#f2492a" stroke-width="0.9" fill="none" opacity="0.85"/>
<path d="M283.3,265.15 L286.13,259.95 L280.47,259.95Z" fill="#f2492a"/>
<path d="M283.3,260.65 L286.13,255.45 L280.47,255.45Z" fill="#f2492a"/>
<path d="M283.3,256.15 L286.13,250.95 L280.47,250.95Z" fill="#f2492a"/>
<path d="M283.3,249.15 L286.13,243.95 L280.47,243.95Z" fill="#f2492a"/>
<path d="M287.72,241.35 L290.56,236.15 L284.89,236.15Z" fill="#f2492a"/>
<path d="M292.14,234.75 L294.97,229.55 L289.31,229.55Z" fill="#f2492a"/>
<path d="M300.98,227.15 L303.81,221.95 L298.15,221.95Z" fill="#f2492a"/>
<path d="M309.82,216.85 L312.65,211.65 L306.99,211.65Z" fill="#f2492a"/>
<path d="M336.34,212.65 L339.18,207.45 L333.51,207.45Z" fill="#f2492a"/>
<path d="M362.86,210.65 L365.69,205.45 L360.03,205.45Z" fill="#f2492a"/>
<path d="M389.38,209.65 L392.21,204.45 L386.55,204.45Z" fill="#f2492a"/>
<path d="M445.58,209.65 L448.41,204.45 L442.75,204.45Z" fill="#f2492a"/>
<path d="M283.3,277.7 L283.3,270.5 L283.3,265.4 L283.3,260.2 L287.72,258.6 L292.14,256.1 L300.98,252.5 L309.82,249.5 L336.34,246.5 L362.86,244.2 L389.38,240.9" fill="none" stroke="#17497a" stroke-width="1.2" stroke-dasharray="1.4 1.6"/>
<path d="M389.38,240.9 L412.8,240.9 M419.8,240.9 L445.58,240.9" fill="none" stroke="#17497a" stroke-width="1.2" stroke-dasharray="1.4 1.6"/>
<path d="M283.3,275.7V279.7M281.3,275.7H285.3M281.3,279.7H285.3" stroke="#17497a" stroke-width="0.9" fill="none" opacity="0.85"/>
<path d="M283.3,268.5V272.5M281.3,268.5H285.3M281.3,272.5H285.3" stroke="#17497a" stroke-width="0.9" fill="none" opacity="0.85"/>
<path d="M283.3,263.4V267.4M281.3,263.4H285.3M281.3,267.4H285.3" stroke="#17497a" stroke-width="0.9" fill="none" opacity="0.85"/>
<path d="M283.3,258.2V262.2M281.3,258.2H285.3M281.3,262.2H285.3" stroke="#17497a" stroke-width="0.9" fill="none" opacity="0.85"/>
<path d="M287.72,255.6V261.6M285.72,255.6H289.72M285.72,261.6H289.72" stroke="#17497a" stroke-width="0.9" fill="none" opacity="0.85"/>
<path d="M292.14,253.1V259.1M290.14,253.1H294.14M290.14,259.1H294.14" stroke="#17497a" stroke-width="0.9" fill="none" opacity="0.85"/>
<path d="M300.98,250V255M298.98,250H302.98M298.98,255H302.98" stroke="#17497a" stroke-width="0.9" fill="none" opacity="0.85"/>
<path d="M309.82,246.5V252.5M307.82,246.5H311.82M307.82,252.5H311.82" stroke="#17497a" stroke-width="0.9" fill="none" opacity="0.85"/>
<path d="M336.34,243.5V249.5M334.34,243.5H338.34M334.34,249.5H338.34" stroke="#17497a" stroke-width="0.9" fill="none" opacity="0.85"/>
<path d="M362.86,240.2V248.2M360.86,240.2H364.86M360.86,248.2H364.86" stroke="#17497a" stroke-width="0.9" fill="none" opacity="0.85"/>
<path d="M389.38,236.9V244.9M387.38,236.9H391.38M387.38,244.9H391.38" stroke="#17497a" stroke-width="0.9" fill="none" opacity="0.85"/>
<path d="M445.58,236.9V244.9M443.58,236.9H447.58M443.58,244.9H447.58" stroke="#17497a" stroke-width="0.9" fill="none" opacity="0.85"/>
<circle cx="283.3" cy="277.7" r="2.52" fill="#17497a"/>
<circle cx="283.3" cy="270.5" r="2.52" fill="#17497a"/>
<circle cx="283.3" cy="265.4" r="2.52" fill="#17497a"/>
<circle cx="283.3" cy="260.2" r="2.52" fill="#17497a"/>
<circle cx="287.72" cy="258.6" r="2.52" fill="#17497a"/>
<circle cx="292.14" cy="256.1" r="2.52" fill="#17497a"/>
<circle cx="300.98" cy="252.5" r="2.52" fill="#17497a"/>
<circle cx="309.82" cy="249.5" r="2.52" fill="#17497a"/>
<circle cx="336.34" cy="246.5" r="2.52" fill="#17497a"/>
<circle cx="362.86" cy="244.2" r="2.52" fill="#17497a"/>
<circle cx="389.38" cy="240.9" r="2.52" fill="#17497a"/>
<circle cx="445.58" cy="240.9" r="2.52" fill="#17497a"/>
<path d="M283.3,308.4 L283.3,299.2 L283.3,292 L283.3,284.8 L287.72,276.6 L292.14,269.9 L300.98,260.7 L309.82,251 L336.34,246.5 L362.86,244.2 L389.38,245.8" fill="none" stroke="#f2492a" stroke-width="1.2" stroke-dasharray="1.4 1.6"/>
<path d="M389.38,245.8 L412.8,245.8 M419.8,245.8 L445.58,245.8" fill="none" stroke="#f2492a" stroke-width="1.2" stroke-dasharray="1.4 1.6"/>
<path d="M283.3,305.4V311.4M281.3,305.4H285.3M281.3,311.4H285.3" stroke="#f2492a" stroke-width="0.9" fill="none" opacity="0.85"/>
<path d="M283.3,296.2V302.2M281.3,296.2H285.3M281.3,302.2H285.3" stroke="#f2492a" stroke-width="0.9" fill="none" opacity="0.85"/>
<path d="M283.3,289V295M281.3,289H285.3M281.3,295H285.3" stroke="#f2492a" stroke-width="0.9" fill="none" opacity="0.85"/>
<path d="M283.3,281.8V287.8M281.3,281.8H285.3M281.3,287.8H285.3" stroke="#f2492a" stroke-width="0.9" fill="none" opacity="0.85"/>
<path d="M287.72,273.1V280.1M285.72,273.1H289.72M285.72,280.1H289.72" stroke="#f2492a" stroke-width="0.9" fill="none" opacity="0.85"/>
<path d="M292.14,266.4V273.4M290.14,266.4H294.14M290.14,273.4H294.14" stroke="#f2492a" stroke-width="0.9" fill="none" opacity="0.85"/>
<path d="M300.98,256.7V264.7M298.98,256.7H302.98M298.98,264.7H302.98" stroke="#f2492a" stroke-width="0.9" fill="none" opacity="0.85"/>
<path d="M309.82,246V256M307.82,246H311.82M307.82,256H311.82" stroke="#f2492a" stroke-width="0.9" fill="none" opacity="0.85"/>
<path d="M336.34,243.5V249.5M334.34,243.5H338.34M334.34,249.5H338.34" stroke="#f2492a" stroke-width="0.9" fill="none" opacity="0.85"/>
<path d="M362.86,240.2V248.2M360.86,240.2H364.86M360.86,248.2H364.86" stroke="#f2492a" stroke-width="0.9" fill="none" opacity="0.85"/>
<path d="M389.38,242.8V248.8M387.38,242.8H391.38M387.38,248.8H391.38" stroke="#f2492a" stroke-width="0.9" fill="none" opacity="0.85"/>
<path d="M445.58,242.8V248.8M443.58,242.8H447.58M443.58,248.8H447.58" stroke="#f2492a" stroke-width="0.9" fill="none" opacity="0.85"/>
<rect x="280.88" y="305.98" width="4.83" height="4.83" fill="#f2492a"/>
<rect x="280.88" y="296.78" width="4.83" height="4.83" fill="#f2492a"/>
<rect x="280.88" y="289.58" width="4.83" height="4.83" fill="#f2492a"/>
<rect x="280.88" y="282.38" width="4.83" height="4.83" fill="#f2492a"/>
<rect x="285.31" y="274.19" width="4.83" height="4.83" fill="#f2492a"/>
<rect x="289.72" y="267.48" width="4.83" height="4.83" fill="#f2492a"/>
<rect x="298.56" y="258.28" width="4.83" height="4.83" fill="#f2492a"/>
<rect x="307.4" y="248.59" width="4.83" height="4.83" fill="#f2492a"/>
<rect x="333.93" y="244.09" width="4.83" height="4.83" fill="#f2492a"/>
<rect x="360.44" y="241.78" width="4.83" height="4.83" fill="#f2492a"/>
<rect x="386.96" y="243.39" width="4.83" height="4.83" fill="#f2492a"/>
<rect x="443.16" y="243.39" width="4.83" height="4.83" fill="#f2492a"/>
<line x1="343.7" y1="304.1" x2="360.9" y2="304.1" stroke="#17497a" stroke-width="1.3"/>
<path d="M352.3,300.8 L355.27,306.25 L349.33,306.25Z" fill="#17497a"/>
<text x="362.1" y="306.98" font-size="8" textLength="9.9" lengthAdjust="spacingAndGlyphs">SD</text>
<text x="380.6" y="306.98" font-size="8" textLength="47.9" lengthAdjust="spacingAndGlyphs">(Removal rate)</text>
<line x1="343.7" y1="313.2" x2="360.9" y2="313.2" stroke="#17497a" stroke-width="1.3" stroke-dasharray="1.4 1.6"/>
<circle cx="352.3" cy="313.2" r="2.64" fill="#17497a"/>
<text x="362.1" y="316.08" font-size="8" textLength="9.9" lengthAdjust="spacingAndGlyphs">SD</text>
<text x="380.6" y="316.08" font-size="8" textLength="73" lengthAdjust="spacingAndGlyphs">(Adsorption capacity)</text>
<line x1="343.7" y1="321.5" x2="360.9" y2="321.5" stroke="#f2492a" stroke-width="1.3"/>
<path d="M352.3,324.8 L355.27,319.36 L349.33,319.36Z" fill="#f2492a"/>
<text x="362.1" y="324.38" font-size="8" textLength="16" lengthAdjust="spacingAndGlyphs">SMZ</text>
<text x="379.6" y="324.38" font-size="8" textLength="47.9" lengthAdjust="spacingAndGlyphs">(Removal rate)</text>
<line x1="343.7" y1="330.4" x2="360.9" y2="330.4" stroke="#f2492a" stroke-width="1.3" stroke-dasharray="1.4 1.6"/>
<rect x="349.77" y="327.87" width="5.06" height="5.06" fill="#f2492a"/>
<text x="362.1" y="333.28" font-size="8" textLength="16" lengthAdjust="spacingAndGlyphs">SMZ</text>
<text x="380.6" y="333.28" font-size="8" textLength="73" lengthAdjust="spacingAndGlyphs">(Adsorption capacity)</text>
<rect x="29.5" y="365.4" width="189.3" height="152.7" fill="none" stroke="#555" stroke-width="1.1"/>
<line x1="29.5" y1="518.1" x2="32" y2="518.1" stroke="#555" stroke-width="1"/>
<text x="25.5" y="521.08" font-size="10.64" text-anchor="end" textLength="5.28" lengthAdjust="spacingAndGlyphs">0</text>
<line x1="29.5" y1="487.56" x2="32" y2="487.56" stroke="#555" stroke-width="1"/>
<text x="25.5" y="490.54" font-size="10.64" text-anchor="end" textLength="10.57" lengthAdjust="spacingAndGlyphs">20</text>
<line x1="29.5" y1="457.02" x2="32" y2="457.02" stroke="#555" stroke-width="1"/>
<text x="25.5" y="460" font-size="10.64" text-anchor="end" textLength="10.57" lengthAdjust="spacingAndGlyphs">40</text>
<line x1="29.5" y1="426.48" x2="32" y2="426.48" stroke="#555" stroke-width="1"/>
<text x="25.5" y="429.46" font-size="10.64" text-anchor="end" textLength="10.57" lengthAdjust="spacingAndGlyphs">60</text>
<line x1="29.5" y1="395.94" x2="32" y2="395.94" stroke="#555" stroke-width="1"/>
<text x="25.5" y="398.92" font-size="10.64" text-anchor="end" textLength="10.57" lengthAdjust="spacingAndGlyphs">80</text>
<line x1="29.5" y1="365.4" x2="32" y2="365.4" stroke="#555" stroke-width="1"/>
<text x="25.5" y="368.38" font-size="10.64" text-anchor="end" textLength="15.85" lengthAdjust="spacingAndGlyphs">100</text>
<line x1="218.8" y1="518.1" x2="216.3" y2="518.1" stroke="#555" stroke-width="1"/>
<text x="222.3" y="521.08" font-size="10.64" text-anchor="start" textLength="5.28" lengthAdjust="spacingAndGlyphs">1</text>
<line x1="218.8" y1="487.56" x2="216.3" y2="487.56" stroke="#555" stroke-width="1"/>
<text x="222.3" y="490.54" font-size="10.64" text-anchor="start" textLength="5.28" lengthAdjust="spacingAndGlyphs">2</text>
<line x1="218.8" y1="457.02" x2="216.3" y2="457.02" stroke="#555" stroke-width="1"/>
<text x="222.3" y="460" font-size="10.64" text-anchor="start" textLength="5.28" lengthAdjust="spacingAndGlyphs">3</text>
<line x1="218.8" y1="426.48" x2="216.3" y2="426.48" stroke="#555" stroke-width="1"/>
<text x="222.3" y="429.46" font-size="10.64" text-anchor="start" textLength="5.28" lengthAdjust="spacingAndGlyphs">4</text>
<line x1="218.8" y1="395.94" x2="216.3" y2="395.94" stroke="#555" stroke-width="1"/>
<text x="222.3" y="398.92" font-size="10.64" text-anchor="start" textLength="5.28" lengthAdjust="spacingAndGlyphs">5</text>
<line x1="218.8" y1="365.4" x2="216.3" y2="365.4" stroke="#555" stroke-width="1"/>
<text x="222.3" y="368.38" font-size="10.64" text-anchor="start" textLength="5.28" lengthAdjust="spacingAndGlyphs">6</text>
<line x1="44.3" y1="518.1" x2="44.3" y2="515.6" stroke="#555" stroke-width="1"/>
<text x="44.3" y="529.3" font-size="10.98" text-anchor="middle" textLength="10.9" lengthAdjust="spacingAndGlyphs">20</text>
<line x1="84.05" y1="518.1" x2="84.05" y2="515.6" stroke="#555" stroke-width="1"/>
<text x="84.05" y="529.3" font-size="10.98" text-anchor="middle" textLength="10.9" lengthAdjust="spacingAndGlyphs">25</text>
<line x1="123.8" y1="518.1" x2="123.8" y2="515.6" stroke="#555" stroke-width="1"/>
<text x="123.8" y="529.3" font-size="10.98" text-anchor="middle" textLength="10.9" lengthAdjust="spacingAndGlyphs">30</text>
<line x1="163.55" y1="518.1" x2="163.55" y2="515.6" stroke="#555" stroke-width="1"/>
<text x="163.55" y="529.3" font-size="10.98" text-anchor="middle" textLength="10.9" lengthAdjust="spacingAndGlyphs">35</text>
<line x1="203.3" y1="518.1" x2="203.3" y2="515.6" stroke="#555" stroke-width="1"/>
<text x="203.3" y="529.3" font-size="10.98" text-anchor="middle" textLength="10.9" lengthAdjust="spacingAndGlyphs">40</text>
<line x1="64.17" y1="518.1" x2="64.17" y2="516.6" stroke="#555" stroke-width="1"/>
<line x1="103.92" y1="518.1" x2="103.92" y2="516.6" stroke="#555" stroke-width="1"/>
<line x1="143.68" y1="518.1" x2="143.68" y2="516.6" stroke="#555" stroke-width="1"/>
<line x1="183.43" y1="518.1" x2="183.43" y2="516.6" stroke="#555" stroke-width="1"/>
<text x="79.8" y="541" font-size="11" text-anchor="start" textLength="86.5" lengthAdjust="spacingAndGlyphs">Temperature  (℃)</text>
<text transform="translate(12.2,0) rotate(-90)" x="-483.2" y="0" font-size="10.1" textLength="84.1" lengthAdjust="spacingAndGlyphs">Removal rate (%)</text>
<text transform="translate(237.6,0) rotate(-90)" x="-510.5" y="0" font-size="10.8" textLength="93.78" lengthAdjust="spacingAndGlyphs">Adsorption capacity</text>
<text transform="translate(237.6,0) rotate(-90)" x="-413.99" y="0" font-size="10.8" textLength="40.39" lengthAdjust="spacingAndGlyphs">(mg·g<tspan font-size="75%" dy="-4.2">-1</tspan><tspan dy="4.2">)</tspan></text>
<text x="36.3" y="387.3" font-size="24" class="L">e</text>
<path d="M44.3,441.25 L84.05,441 L123.8,439.7 L163.55,440.3 L203.3,441.1" fill="none" stroke="#17497a" stroke-width="1.2" stroke-dasharray="1.4 1.6"/>
<circle cx="44.3" cy="441.25" r="2.4" fill="#17497a"/>
<circle cx="84.05" cy="441" r="2.4" fill="#17497a"/>
<circle cx="123.8" cy="439.7" r="2.4" fill="#17497a"/>
<circle cx="163.55" cy="440.3" r="2.4" fill="#17497a"/>
<circle cx="203.3" cy="441.1" r="2.4" fill="#17497a"/>
<path d="M44.3,443 L84.05,440 L123.8,445 L163.55,439.7 L203.3,438.2" fill="none" stroke="#f2492a" stroke-width="1.2" stroke-dasharray="1.4 1.6"/>
<path d="M123.8,442V448M122.3,442H125.3M122.3,448H125.3" stroke="#f2492a" stroke-width="0.8" fill="none" opacity="0.8"/>
<path d="M203.3,436.2V440.2M201.8,436.2H204.8M201.8,440.2H204.8" stroke="#f2492a" stroke-width="0.8" fill="none" opacity="0.8"/>
<rect x="42" y="440.7" width="4.6" height="4.6" fill="#f2492a"/>
<rect x="81.75" y="437.7" width="4.6" height="4.6" fill="#f2492a"/>
<rect x="121.5" y="442.7" width="4.6" height="4.6" fill="#f2492a"/>
<rect x="161.25" y="437.4" width="4.6" height="4.6" fill="#f2492a"/>
<rect x="201" y="435.9" width="4.6" height="4.6" fill="#f2492a"/>
<path d="M44.3,412.5 L84.05,409.5 L123.8,408.7 L163.55,410.8 L203.3,408.7" fill="none" stroke="#17497a" stroke-width="1.75"/>
<path d="M44.3,410.5V414.5M42.8,410.5H45.8M42.8,414.5H45.8" stroke="#17497a" stroke-width="0.8" fill="none" opacity="0.8"/>
<path d="M84.05,407V412M82.55,407H85.55M82.55,412H85.55" stroke="#17497a" stroke-width="0.8" fill="none" opacity="0.8"/>
<path d="M123.8,406.7V410.7M122.3,406.7H125.3M122.3,410.7H125.3" stroke="#17497a" stroke-width="0.8" fill="none" opacity="0.8"/>
<path d="M163.55,409.3V412.3M162.05,409.3H165.05M162.05,412.3H165.05" stroke="#17497a" stroke-width="0.8" fill="none" opacity="0.8"/>
<path d="M203.3,406.7V410.7M201.8,406.7H204.8M201.8,410.7H204.8" stroke="#17497a" stroke-width="0.8" fill="none" opacity="0.8"/>
<path d="M44.3,409.5 L47,414.45 L41.6,414.45Z" fill="#17497a"/>
<path d="M84.05,406.5 L86.75,411.45 L81.35,411.45Z" fill="#17497a"/>
<path d="M123.8,405.7 L126.5,410.65 L121.1,410.65Z" fill="#17497a"/>
<path d="M163.55,407.8 L166.25,412.75 L160.85,412.75Z" fill="#17497a"/>
<path d="M203.3,405.7 L206,410.65 L200.6,410.65Z" fill="#17497a"/>
<path d="M44.3,417.5 L84.05,413 L123.8,413.7 L163.55,410.8 L203.3,408.7" fill="none" stroke="#f2492a" stroke-width="1.75"/>
<path d="M84.05,411V415M82.55,411H85.55M82.55,415H85.55" stroke="#f2492a" stroke-width="0.8" fill="none" opacity="0.8"/>
<path d="M123.8,410.7V416.7M122.3,410.7H125.3M122.3,416.7H125.3" stroke="#f2492a" stroke-width="0.8" fill="none" opacity="0.8"/>
<path d="M44.3,420.5 L47,415.55 L41.6,415.55Z" fill="#f2492a"/>
<path d="M84.05,416 L86.75,411.05 L81.35,411.05Z" fill="#f2492a"/>
<path d="M123.8,416.7 L126.5,411.75 L121.1,411.75Z" fill="#f2492a"/>
<path d="M163.55,413.8 L166.25,408.85 L160.85,408.85Z" fill="#f2492a"/>
<path d="M203.3,411.7 L206,406.75 L200.6,406.75Z" fill="#f2492a"/>
<line x1="103.7" y1="478.4" x2="120.9" y2="478.4" stroke="#17497a" stroke-width="1.3"/>
<path d="M112.3,475.1 L115.27,480.54 L109.33,480.54Z" fill="#17497a"/>
<text x="122.6" y="481.21" font-size="7.8" font-weight="bold" textLength="11.8" lengthAdjust="spacingAndGlyphs">SD</text>
<text x="138.8" y="481.21" font-size="7.8" font-weight="bold" textLength="49.2" lengthAdjust="spacingAndGlyphs">(Removel rate)</text>
<line x1="103.7" y1="487.5" x2="120.9" y2="487.5" stroke="#17497a" stroke-width="1.3" stroke-dasharray="1.4 1.6"/>
<circle cx="112.3" cy="487.5" r="2.64" fill="#17497a"/>
<text x="122.6" y="490.31" font-size="7.8" font-weight="bold" textLength="11.8" lengthAdjust="spacingAndGlyphs">SD</text>
<text x="138.8" y="490.31" font-size="7.8" font-weight="bold" textLength="70.5" lengthAdjust="spacingAndGlyphs">(Adsorption capacity)</text>
<line x1="103.7" y1="496" x2="120.9" y2="496" stroke="#f2492a" stroke-width="1.3"/>
<path d="M112.3,499.3 L115.27,493.86 L109.33,493.86Z" fill="#f2492a"/>
<text x="122.6" y="498.81" font-size="7.8" font-weight="bold" textLength="14.3" lengthAdjust="spacingAndGlyphs">SMZ</text>
<text x="138.8" y="498.81" font-size="7.8" font-weight="bold" textLength="49.2" lengthAdjust="spacingAndGlyphs">(Removel rate)</text>
<line x1="103.7" y1="505.1" x2="120.9" y2="505.1" stroke="#f2492a" stroke-width="1.3" stroke-dasharray="1.4 1.6"/>
<rect x="109.77" y="502.57" width="5.06" height="5.06" fill="#f2492a"/>
<text x="122.6" y="507.91" font-size="7.8" font-weight="bold" textLength="14.3" lengthAdjust="spacingAndGlyphs">SMZ</text>
<text x="138.8" y="507.91" font-size="7.8" font-weight="bold" textLength="70.5" lengthAdjust="spacingAndGlyphs">(Adsorption capacity)</text>
<rect x="271.7" y="367.2" width="188.7" height="152.8" fill="none" stroke="#555" stroke-width="1.1"/>
<line x1="271.7" y1="520" x2="274.2" y2="520" stroke="#555" stroke-width="1"/>
<text x="268.2" y="523.01" font-size="10.75" text-anchor="end" textLength="16.54" lengthAdjust="spacingAndGlyphs">-2.0</text>
<line x1="271.7" y1="500.9" x2="274.2" y2="500.9" stroke="#555" stroke-width="1"/>
<text x="268.2" y="503.91" font-size="10.75" text-anchor="end" textLength="16.54" lengthAdjust="spacingAndGlyphs">-1.5</text>
<line x1="271.7" y1="481.8" x2="274.2" y2="481.8" stroke="#555" stroke-width="1"/>
<text x="268.2" y="484.81" font-size="10.75" text-anchor="end" textLength="16.54" lengthAdjust="spacingAndGlyphs">-1.0</text>
<line x1="271.7" y1="462.7" x2="274.2" y2="462.7" stroke="#555" stroke-width="1"/>
<text x="268.2" y="465.71" font-size="10.75" text-anchor="end" textLength="16.54" lengthAdjust="spacingAndGlyphs">-0.5</text>
<line x1="271.7" y1="443.6" x2="274.2" y2="443.6" stroke="#555" stroke-width="1"/>
<text x="268.2" y="446.61" font-size="10.75" text-anchor="end" textLength="13.35" lengthAdjust="spacingAndGlyphs">0.0</text>
<line x1="271.7" y1="424.5" x2="274.2" y2="424.5" stroke="#555" stroke-width="1"/>
<text x="268.2" y="427.51" font-size="10.75" text-anchor="end" textLength="13.35" lengthAdjust="spacingAndGlyphs">0.5</text>
<line x1="271.7" y1="405.4" x2="274.2" y2="405.4" stroke="#555" stroke-width="1"/>
<text x="268.2" y="408.41" font-size="10.75" text-anchor="end" textLength="13.35" lengthAdjust="spacingAndGlyphs">1.0</text>
<line x1="271.7" y1="386.3" x2="274.2" y2="386.3" stroke="#555" stroke-width="1"/>
<text x="268.2" y="389.31" font-size="10.75" text-anchor="end" textLength="13.35" lengthAdjust="spacingAndGlyphs">1.5</text>
<line x1="271.7" y1="367.2" x2="274.2" y2="367.2" stroke="#555" stroke-width="1"/>
<text x="268.2" y="370.21" font-size="10.75" text-anchor="end" textLength="13.35" lengthAdjust="spacingAndGlyphs">2.0</text>
<line x1="271.7" y1="520" x2="271.7" y2="517.5" stroke="#555" stroke-width="1"/>
<text x="271.7" y="531.6" font-size="10.75" text-anchor="middle" textLength="5.34" lengthAdjust="spacingAndGlyphs">0</text>
<line x1="300.7" y1="520" x2="300.7" y2="517.5" stroke="#555" stroke-width="1"/>
<text x="300.7" y="531.6" font-size="10.75" text-anchor="middle" textLength="5.34" lengthAdjust="spacingAndGlyphs">2</text>
<line x1="329.7" y1="520" x2="329.7" y2="517.5" stroke="#555" stroke-width="1"/>
<text x="329.7" y="531.6" font-size="10.75" text-anchor="middle" textLength="5.34" lengthAdjust="spacingAndGlyphs">4</text>
<line x1="358.7" y1="520" x2="358.7" y2="517.5" stroke="#555" stroke-width="1"/>
<text x="358.7" y="531.6" font-size="10.75" text-anchor="middle" textLength="5.34" lengthAdjust="spacingAndGlyphs">6</text>
<line x1="387.7" y1="520" x2="387.7" y2="517.5" stroke="#555" stroke-width="1"/>
<text x="387.7" y="531.6" font-size="10.75" text-anchor="middle" textLength="5.34" lengthAdjust="spacingAndGlyphs">8</text>
<line x1="416.7" y1="520" x2="416.7" y2="517.5" stroke="#555" stroke-width="1"/>
<text x="416.7" y="531.6" font-size="10.75" text-anchor="middle" textLength="10.68" lengthAdjust="spacingAndGlyphs">10</text>
<line x1="445.7" y1="520" x2="445.7" y2="517.5" stroke="#555" stroke-width="1"/>
<text x="445.7" y="531.6" font-size="10.75" text-anchor="middle" textLength="10.68" lengthAdjust="spacingAndGlyphs">12</text>
<line x1="286.2" y1="520" x2="286.2" y2="518.5" stroke="#555" stroke-width="1"/>
<line x1="315.2" y1="520" x2="315.2" y2="518.5" stroke="#555" stroke-width="1"/>
<line x1="344.2" y1="520" x2="344.2" y2="518.5" stroke="#555" stroke-width="1"/>
<line x1="373.2" y1="520" x2="373.2" y2="518.5" stroke="#555" stroke-width="1"/>
<line x1="402.2" y1="520" x2="402.2" y2="518.5" stroke="#555" stroke-width="1"/>
<line x1="431.2" y1="520" x2="431.2" y2="518.5" stroke="#555" stroke-width="1"/>
<line x1="271.7" y1="443.6" x2="460.4" y2="443.6" stroke="#767676" stroke-width="1.6"/>
<text x="352.1" y="544.5" font-size="10.2" text-anchor="start" textLength="12.3" lengthAdjust="spacingAndGlyphs">pH</text>
<text x="365.2" y="546.8" font-size="6.8" text-anchor="start" textLength="15.6" lengthAdjust="spacingAndGlyphs">Inital</text>
<text transform="translate(242.3,0) rotate(-90)" x="-473.6" y="0" font-size="10" textLength="11.6" lengthAdjust="spacingAndGlyphs">pH</text>
<text transform="translate(242.3,0) rotate(-90)" x="-459" y="2.4" font-size="6.8" font-weight="bold" textLength="13.2" lengthAdjust="spacingAndGlyphs">Final</text>
<text transform="translate(242.3,0) rotate(-90)" x="-445.7" y="0" font-size="10" textLength="3" lengthAdjust="spacingAndGlyphs">-</text>
<text transform="translate(242.3,0) rotate(-90)" x="-442.5" y="0" font-size="10" textLength="9.9" lengthAdjust="spacingAndGlyphs">pH</text>
<text transform="translate(242.3,0) rotate(-90)" x="-431" y="2.4" font-size="6.8" font-weight="bold" textLength="16.4" lengthAdjust="spacingAndGlyphs">Inital</text>
<text x="279.4" y="388.8" font-size="25" class="L">f</text>
<path d="M300.8,397.5 L329.6,476.1 L358.6,491.6 L387.8,507.1 L417.1,502 L446.3,498.5" fill="none" stroke="#17497a" stroke-width="2.0"/>
<path d="M329.6,473.1V479.1M328.1,473.1H331.1M328.1,479.1H331.1" stroke="#17497a" stroke-width="0.8" fill="none" opacity="0.8"/>
<path d="M358.6,487.6V495.6M357.1,487.6H360.1M357.1,495.6H360.1" stroke="#17497a" stroke-width="0.8" fill="none" opacity="0.8"/>
<path d="M387.8,505.1V509.1M386.3,505.1H389.3M386.3,509.1H389.3" stroke="#17497a" stroke-width="0.8" fill="none" opacity="0.8"/>
<rect x="298.62" y="395.31" width="4.37" height="4.37" fill="#17497a"/>
<rect x="327.42" y="473.92" width="4.37" height="4.37" fill="#17497a"/>
<rect x="356.42" y="489.42" width="4.37" height="4.37" fill="#17497a"/>
<rect x="385.62" y="504.92" width="4.37" height="4.37" fill="#17497a"/>
<rect x="414.92" y="499.81" width="4.37" height="4.37" fill="#17497a"/>
<rect x="444.12" y="496.31" width="4.37" height="4.37" fill="#17497a"/>
<text x="323.6" y="425" font-size="10.5" text-anchor="start">pH<tspan font-size="70%" font-weight="bold" dy="2.5">pzc</tspan><tspan dy="-2.5">=2.7</tspan></text>
<path d="M333.8,430.3 L320.5,441" stroke="#222" stroke-width="0.8"/>
<path d="M318.9,442.3 L320.6,438.3 L322.8,441.0Z" fill="#222"/>
</svg></body></html>
